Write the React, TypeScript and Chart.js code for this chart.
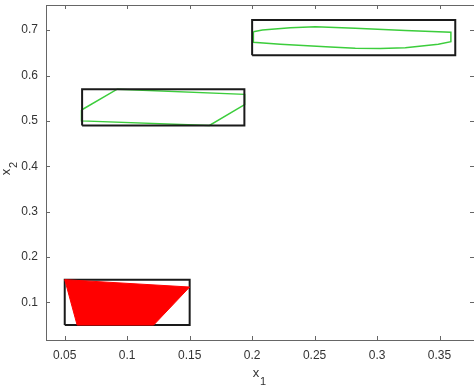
import React, { useEffect, useRef } from "react";
import { Chart, registerables } from "chart.js";

Chart.register(...registerables);

// Axis ticks
const xTicks = [0.05, 0.1, 0.15, 0.2, 0.25, 0.3, 0.35];
const yTicks = [0.1, 0.2, 0.3, 0.4, 0.5, 0.6, 0.7];

// Bounding boxes [xmin, xmax, ymin, ymax]
const boxLow = [0.05, 0.15, 0.05, 0.15];
const boxMid = [0.0639, 0.1938, 0.49, 0.5695];
const boxTop = [0.2, 0.3626, 0.645, 0.7225];

// Red filled polygon
const redX = [0.05, 0.15, 0.1212, 0.0599, 0.05];
const redY = [0.15, 0.1338, 0.05, 0.05, 0.15];

// Green polygon in middle box
const greenMidX = [0.0634, 0.092, 0.194, 0.194, 0.1658, 0.0634, 0.0634];
const greenMidY = [0.524, 0.57, 0.5585, 0.536, 0.49, 0.5, 0.524];

// Green polygon in top box
const greenTopX = [0.201, 0.2082, 0.2306, 0.2506, 0.2826, 0.3226, 0.3591, 0.3591, 0.349, 0.3226, 0.3026, 0.2826, 0.2626, 0.2226, 0.201, 0.201];
const greenTopY = [0.6967, 0.7004, 0.7055, 0.7077, 0.7042, 0.6993, 0.6954, 0.6746, 0.6689, 0.6614, 0.6596, 0.66, 0.6629, 0.6689, 0.6733, 0.6967];

const FONT = "'Liberation Sans', Arial, Helvetica, sans-serif";
const GREEN = "rgb(60,205,60)";

const toPts = (xs: number[], ys: number[]) => xs.map((x, i) => ({ x, y: ys[i] }));
const boxPts = (b: number[]) =>
  toPts([b[0], b[1], b[1], b[0], b[0]], [b[2], b[2], b[3], b[3], b[2]]);

const framePlugin = {
  id: "frame",
  afterDraw(chart: any) {
    const { ctx, chartArea: a, scales } = chart;
    const xs = scales.x;
    const ys = scales.y;
    ctx.save();
    ctx.strokeStyle = "#666";
    ctx.lineWidth = 1;
    ctx.strokeRect(a.left + 0.5, a.top + 0.5, a.right - a.left - 1, a.bottom - a.top);
    const tl = 4;
    ctx.beginPath();
    xTicks.forEach((v) => {
      const px = Math.round(xs.getPixelForValue(v)) + 0.5;
      ctx.moveTo(px, a.bottom);
      ctx.lineTo(px, a.bottom - tl);
      ctx.moveTo(px, a.top);
      ctx.lineTo(px, a.top + tl);
    });
    yTicks.forEach((v) => {
      const py = Math.round(ys.getPixelForValue(v)) + 0.5;
      ctx.moveTo(a.left, py);
      ctx.lineTo(a.left + tl, py);
      ctx.moveTo(a.right, py);
      ctx.lineTo(a.right - tl - 3, py);
    });
    ctx.stroke();

    // axis titles
    ctx.fillStyle = "#333";
    ctx.textAlign = "center";
    ctx.textBaseline = "middle";
    ctx.font = `13px ${FONT}`;
    ctx.fillText("x", 256, 373);
    ctx.font = `11px ${FONT}`;
    ctx.fillText("1", 263, 382);

    ctx.translate(6, 172);
    ctx.rotate(-Math.PI / 2);
    ctx.font = `13px ${FONT}`;
    ctx.fillText("x", 0, 0);
    ctx.font = `11px ${FONT}`;
    ctx.fillText("2", 7, 8);
    ctx.restore();
  },
};

export default function App() {
  const ref = useRef<HTMLCanvasElement>(null);
  useEffect(() => {
    const line = (data: any[], color: string, width: number) => ({
      data,
      showLine: true,
      pointRadius: 0,
      borderColor: color,
      borderWidth: width,
      fill: false,
      tension: 0,
    });
    const chart = new Chart(ref.current!, {
      type: "scatter",
      data: {
        datasets: [
          {
            data: toPts(redX, redY),
            showLine: true,
            pointRadius: 0,
            borderColor: "#ff0000",
            backgroundColor: "#ff0000",
            borderWidth: 1,
            fill: "shape",
          } as any,
          line(boxPts(boxLow), "#1a1a1a", 2),
          line(boxPts(boxMid), "#1a1a1a", 2),
          line(boxPts(boxTop), "#1a1a1a", 2),
          line(toPts(greenMidX, greenMidY), GREEN, 1.5),
          line(toPts(greenTopX, greenTopY), GREEN, 1.5),
        ],
      },
      options: {
        animation: false,
        responsive: false,
        devicePixelRatio: 1,
        layout: { padding: { top: 5, right: 0, left: 0, bottom: 0 } },
        plugins: { legend: { display: false }, tooltip: { enabled: false } },
        scales: {
          x: {
            type: "linear",
            min: 0.035,
            max: 0.38,
            afterBuildTicks: (s: any) => {
              s.ticks = xTicks.map((v) => ({ value: v }));
            },
            afterFit: (s: any) => {
              s.height = 47;
              s.paddingLeft = 0;
              s.paddingRight = 0;
              s.paddingTop = 0;
              s.paddingBottom = 0;
            },
            grid: { display: false, drawTicks: false },
            border: { display: false },
            ticks: {
              padding: 8,
              color: "#333",
              font: { family: FONT, size: 12 },
              callback: (v: any) => String(+Number(v).toFixed(2)),
            },
          },
          y: {
            type: "linear",
            min: 0.017,
            max: 0.7555,
            afterBuildTicks: (s: any) => {
              s.ticks = yTicks.map((v) => ({ value: v }));
            },
            afterFit: (s: any) => {
              s.width = 46;
              s.paddingLeft = 0;
              s.paddingRight = 0;
              s.paddingTop = 0;
              s.paddingBottom = 0;
            },
            grid: { display: false, drawTicks: false },
            border: { display: false },
            ticks: {
              padding: 8,
              color: "#333",
              font: { family: FONT, size: 12 },
              callback: (v: any) => String(+Number(v).toFixed(2)),
            },
          },
        },
      },
      plugins: [framePlugin],
    });
    return () => chart.destroy();
  }, []);
  return (
    <div
      style={{
        position: "absolute",
        left: 0,
        top: 0,
        width: 474,
        height: 387,
        overflow: "hidden",
        background: "#fff",
      }}
    >
      <canvas ref={ref} width={477} height={387} />
    </div>
  );
}
